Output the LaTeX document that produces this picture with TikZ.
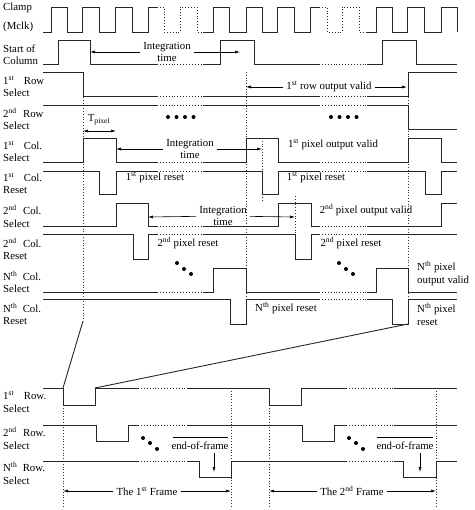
\documentclass[tikz,border=0pt]{standalone}
\usepackage{fontspec}
\setmainfont{Liberation Serif}
\usetikzlibrary{arrows.meta}
\begin{document}
\begin{tikzpicture}[x=1pt,y=-1pt,
  wave/.style={line width=0.9pt, draw=black!85},
  dotw/.style={line width=0.9pt, draw=black!85, dotted},
  guide/.style={line width=0.8pt, draw=black!80, dotted},
  lbl/.style={font=\fontsize{10.8}{12.5}\selectfont, inner sep=0pt, align=left, anchor=west},
  txt/.style={font=\fontsize{10.8}{12.5}\selectfont, inner sep=0pt, align=center},
  arr/.style={line width=0.6pt, -{Latex[length=5pt,width=3pt]}, shorten <=3pt},
  barr/.style={line width=0.6pt, {Latex[length=5pt,width=3pt]}-{Latex[length=5pt,width=3pt]}},
  blob/.style={fill=black}
]
\useasboundingbox (0,0) rectangle (474,510);

% ---------- left labels ----------
\node[lbl] (lClamp) at (3,7.5) {Clamp};
\node[lbl] (lMclk) at (3,27) {(Mclk)};
\node[lbl] (lSoc) at (3,55) {Start of\\Column};
\node[lbl] (lR1) at (3,86.5) {1\textsuperscript{st}\hspace{0.9em}Row\\Select};
\node[lbl] (lR2) at (3,119) {2\textsuperscript{nd}\hspace{0.6em}Row\\Select};
\node[lbl] (lC1S) at (3,151.5) {1\textsuperscript{st}\hspace{0.9em}Col.\\Select};
\node[lbl] (lC1R) at (3,183.5) {1\textsuperscript{st}\hspace{0.9em}Col.\\Reset};
\node[lbl] (lC2S) at (3,216.5) {2\textsuperscript{nd}\hspace{0.6em}Col.\\Select};
\node[lbl] (lC2R) at (3,249) {2\textsuperscript{nd}\hspace{0.6em}Col.\\Reset};
\node[lbl] (lCNS) at (3,282) {N\textsuperscript{th}\hspace{0.5em}Col.\\Select};
\node[lbl] (lCNR) at (3,314) {N\textsuperscript{th}\hspace{0.5em}Col.\\Reset};
\node[lbl] (lB1) at (3,402) {1\textsuperscript{st}\hspace{0.9em}Row.\\Select};
\node[lbl] (lB2) at (3,438.5) {2\textsuperscript{nd}\hspace{0.6em}Row.\\Select};
\node[lbl] (lBN) at (3,473.5) {N\textsuperscript{th}\hspace{0.5em}Row.\\Select};

% ---------- guides ----------
\draw[guide] (83,97) -- (83,321);
\draw[guide] (246,72) -- (246,299);
\draw[guide] (408,72) -- (408,299);
\draw[guide] (262,138) -- (262,200);
\draw[guide] (295,196) -- (295,259);
\draw[guide] (63,405) -- (63,508);
\draw[guide] (231,388) -- (231,508);
\draw[guide] (269,405) -- (269,508);
\draw[guide] (436,388) -- (436,508);

% ---------- clock ----------
\draw[wave] (43,32) -| (51,7) -| (67,32) -| (82,7) -| (99,32) -| (115,7) -| (132,32) -| (148,7) -- (157,7);
\draw[dotw] (157,7) -| (164,32) -| (180,7) -| (197,32) -- (203,32);
\draw[wave] (203,32) -| (213,7) -| (229,32) -| (246,7) -| (262,32) -| (277,7) -| (294,32) -| (310,7) -- (319,7);
\draw[dotw] (319,7) -| (327,32) -| (342,7) -| (359,32) -- (367,32);
\draw[wave] (367,32) -| (376,7) -| (392,32) -| (407,7) -| (424,32) -| (441,7) -| (457,32);

% ---------- start of column ----------
\draw[wave] (43,64) -| (58,40) -| (90,64) -- (157,64);
\draw[dotw] (157,64) -- (203,64);
\draw[wave] (203,64) -| (220,40) -| (254,64) -- (319,64);
\draw[dotw] (319,64) -- (367,64);
\draw[wave] (367,64) -| (382,40) -| (416,64) -- (457,64);

% ---------- 1st row select ----------
\draw[wave] (43,72) -| (83,96) -- (157,96);
\draw[dotw] (157,96) -- (203,96);
\draw[wave] (203,96) -- (319,96);
\draw[dotw] (319,96) -- (367,96);
\draw[wave] (367,96) -| (408,72) -- (457,72);

% ---------- 2nd row select ----------
\draw[wave] (43,105) -- (157,105);
\draw[dotw] (157,105) -- (203,105);
\draw[wave] (203,105) -- (319,105);
\draw[dotw] (319,105) -- (367,105);
\draw[wave] (367,105) -| (408,129) -- (457,129);

% ---------- 1st col select ----------
\draw[wave] (43,162) -| (83,138) -| (116,162) -- (157,162);
\draw[dotw] (157,162) -- (203,162);
\draw[wave] (203,162) -| (246,138) -| (278,162) -- (319,162);
\draw[dotw] (319,162) -- (367,162);
\draw[wave] (367,162) -| (408,138) -| (441,162) -- (457,162);

% ---------- 1st col reset ----------
\draw[wave] (43,171) -| (99,194) -| (116,171) -- (157,171);
\draw[dotw] (157,171) -- (203,171);
\draw[wave] (203,171) -| (262,194) -| (278,171) -- (319,171);
\draw[dotw] (319,171) -- (367,171);
\draw[wave] (367,171) -| (425,194) -| (441,171) -- (457,171);

% ---------- 2nd col select ----------
\draw[wave] (43,226) -| (116,203) -| (148,226) -- (157,226);
\draw[dotw] (157,226) -- (203,226);
\draw[wave] (203,226) -| (278,203) -| (311,226) -- (319,226);
\draw[dotw] (319,226) -- (367,226);
\draw[wave] (367,226) -| (441,203) -- (457,203);

% ---------- 2nd col reset ----------
\draw[wave] (43,234) -| (133,259) -| (148,234) -- (157,234);
\draw[dotw] (157,234) -- (203,234);
\draw[wave] (203,234) -| (295,259) -| (311,234) -- (319,234);
\draw[dotw] (319,234) -- (367,234);
\draw[wave] (367,234) -- (457,234);

% ---------- Nth col select ----------
\draw[wave] (43,292) -- (157,292);
\draw[dotw] (157,292) -- (203,292);
\draw[wave] (203,292) -| (213,268) -| (246,292) -- (319,292);
\draw[dotw] (319,292) -- (367,292);
\draw[wave] (367,292) -| (376,268) -| (408,292) -- (457,292);

% ---------- Nth col reset ----------
\draw[wave] (43,299) -| (230,324) -| (246,299) -- (319,299);
\draw[dotw] (319,299) -- (367,299);
\draw[wave] (367,299) -| (392,324) -| (408,299) -- (457,299);

% ---------- zoom lines ----------
\coordinate (zA1) at (83,321);
\coordinate (zA2) at (63,388);
\coordinate (zB1) at (408,324);
\coordinate (zB2) at (95,388);
\draw[wave] (zA1) -- (zA2);
\draw[wave] (zB1) -- (zB2);

% ---------- bottom rows ----------
\draw[wave] (43,388) -| (63,405) -| (95,388) -- (138,388);
\draw[dotw] (138,388) -- (187,388);
\draw[wave] (187,388) -| (269,405) -| (301,388) -- (346,388);
\draw[dotw] (346,388) -- (394,388);
\draw[wave] (394,388) -- (457,388);

\draw[wave] (43,425) -| (96,441) -| (128,425) -- (138,425);
\draw[dotw] (138,425) -- (187,425);
\draw[wave] (187,425) -| (302,441) -| (334,425) -- (346,425);
\draw[dotw] (346,425) -- (394,425);
\draw[wave] (394,425) -- (457,425);

\draw[wave] (43,461) -- (138,461);
\draw[dotw] (138,461) -- (187,461);
\draw[wave] (187,461) -| (199,477) -| (231,461) -- (346,461);
\draw[dotw] (346,461) -- (394,461);
\draw[wave] (394,461) -| (403,477) -| (436,461) -- (457,461);

% ---------- annotations ----------
\node[txt] (it1) at (167,52) {Integration\\time};
\coordinate (it1L) at (90,52); \coordinate (it1R) at (240,52);
\draw[arr] (it1) -- (it1L); \draw[arr] (it1) -- (it1R);

\node[txt] (rov) at (329,87) {1\textsuperscript{st} row output valid};
\coordinate (rovL) at (246,87); \coordinate (rovR) at (407,87);
\draw[arr] (rov) -- (rovL); \draw[arr] (rov) -- (rovR);

\node[txt] (tp) at (99,120) {T\textsubscript{pixel}};
\coordinate (tpL) at (83,131); \coordinate (tpR) at (116,131);
\draw[barr] (tpL) -- (tpR);

\node[txt] (it2) at (190,149) {Integration\\time};
\coordinate (it2L) at (116,149); \coordinate (it2R) at (262,149);
\draw[arr] (it2) -- (it2L); \draw[arr] (it2) -- (it2R);

\node[txt] (pov1) at (333,145) {1\textsuperscript{st} pixel output valid};
\node[txt] (pr1a) at (155,178) {1\textsuperscript{st} pixel reset};
\node[txt] (pr1b) at (316,178) {1\textsuperscript{st} pixel reset};

\node[txt] (it3) at (223,216) {Integration\\time};
\coordinate (it3L) at (148,217); \coordinate (it3R) at (295,217);
\draw[arr] (it3) -- (it3L); \draw[arr] (it3) -- (it3R);

\node[txt] (pov2) at (366,210) {2\textsuperscript{nd} pixel output valid};
\node[txt] (pr2a) at (188,243) {2\textsuperscript{nd} pixel reset};
\node[txt] (pr2b) at (351,243) {2\textsuperscript{nd} pixel reset};

\node[lbl] (povN) at (417,273.5) {N\textsuperscript{th} pixel\\output valid};
\node[txt] (prNa) at (286,308) {N\textsuperscript{th} pixel reset};
\node[lbl] (prNb) at (417,314.5) {N\textsuperscript{th} pixel\\reset};

% dots
\foreach \x in {168,176.5,185,193.5} \fill[blob] (\x,117) circle (2);
\foreach \x in {331,339.5,348,356.5} \fill[blob] (\x,117) circle (2);
\fill[blob] (177,263) circle (2) (184,269) circle (2) (191,274) circle (2);
\fill[blob] (339,263) circle (2) (346,269) circle (2) (353,274) circle (2);
\fill[blob] (143,438) circle (2) (150,443) circle (2) (157,449) circle (2);
\fill[blob] (349,438) circle (2) (356,443) circle (2) (363,449) circle (2);

% end of frame
\node[txt] (eof1) at (200,446) {end-of-frame};
\draw[line width=0.6pt] (173,437) -- (228,437);
\coordinate (eof1a) at (214,453); \coordinate (eof1b) at (214,472);
\draw[arr, shorten <=0pt] (eof1a) -- (eof1b);

\node[txt] (eof2) at (405,446) {end-of-frame};
\draw[line width=0.6pt] (377,437) -- (433,437);
\coordinate (eof2a) at (420,453); \coordinate (eof2b) at (420,472);
\draw[arr, shorten <=0pt] (eof2a) -- (eof2b);

% frames
\node[txt] (fr1) at (147,491) {The 1\textsuperscript{st} Frame};
\coordinate (fr1L) at (63,491); \coordinate (fr1R) at (231,491);
\draw[arr] (fr1) -- (fr1L); \draw[arr] (fr1) -- (fr1R);

\node[txt] (fr2) at (352,491) {The 2\textsuperscript{nd} Frame};
\coordinate (fr2L) at (269,491); \coordinate (fr2R) at (436,491);
\draw[arr] (fr2) -- (fr2L); \draw[arr] (fr2) -- (fr2R);
\end{tikzpicture}
\end{document}
